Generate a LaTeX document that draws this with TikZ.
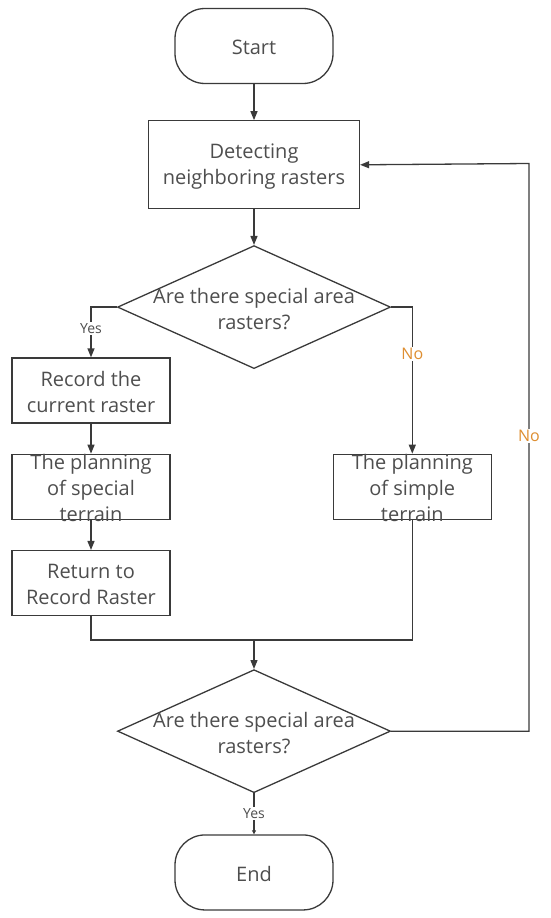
\documentclass[tikz,border=0pt]{standalone}
\usepackage{fontspec}
\setmainfont{Open Sans}
\usetikzlibrary{positioning,shapes.geometric,arrows.meta}

\definecolor{linegray}{RGB}{58,58,58}
\definecolor{textgray}{RGB}{78,78,78}
\definecolor{noorange}{RGB}{222,142,48}
% text of fixed size, may run over the frame
\newcommand{\flowtext}[1]{\makebox[0pt]{\smash{\raisebox{-4pt}{\parbox[c]{240pt}{\centering\fontsize{20pt}{26pt}\selectfont #1}}}}}

\begin{document}
\begin{tikzpicture}[x=1pt, y=-1pt, >={Triangle[length=9pt,width=7pt]},
  terminal/.style={draw=linegray, line width=1.3pt, rectangle, rounded corners=30pt, minimum width=158pt, minimum height=75pt, inner sep=0pt, text=textgray},
  process/.style={draw=linegray, line width=1.3pt, rectangle, minimum width=158pt, minimum height=65pt, inner sep=0pt, text=textgray},
  decision/.style={draw=linegray, line width=1.3pt, diamond, minimum width=273pt, minimum height=123pt, inner sep=0pt, text=textgray},
  flow/.style={->, draw=linegray, line width=1.3pt},
  link/.style={draw=linegray, line width=1.3pt},
  yeslabel/.style={fill=white, inner sep=1.5pt, text=textgray, font=\fontsize{14pt}{16pt}\selectfont},
  nolabel/.style={fill=white, inner sep=1.5pt, text=noorange, font=\fontsize{16pt}{18pt}\selectfont}]
  \useasboundingbox (0,0) rectangle (550,918);

  % Nodes
  \node [terminal] (start) at (254,46) {\flowtext{Start}};
  \node [process, minimum width=211pt, minimum height=88pt, below=36pt of start] (detect) {\flowtext{Detecting\\neighboring rasters}};
  \node [decision, below=35.5pt of detect] (check) {\flowtext{Are there special area\\rasters?}};
  \node [process] (record) at (91,390.5) {\flowtext{Record the\\current raster}};
  \node [process, below=30pt of record] (special) {\flowtext{The planning\\of special\\terrain}};
  \node [process, below=30pt of special] (back) {\flowtext{Return to\\Record Raster}};
  \node [process, right=162pt of special] (simple) {\flowtext{The planning\\of simple\\terrain}};
  \coordinate (merge) at (254,640);
  \node [decision, below=29pt of merge] (recheck) {\flowtext{Are there special area\\rasters?}};
  \node [terminal, below=41pt of recheck] (stop) {\flowtext{End}};
  \coordinate (rail) at (529,163.5);

  % Arrows
  \draw [flow] (start) -- (detect);
  \draw [flow] (detect) -- (check);
  \draw [flow] (check.west) -| node [yeslabel, pos=0.71] {Yes} (record.north);
  \draw [flow] (check.east) -| node [nolabel, pos=0.66] {No} (simple.north);
  \draw [flow] (record) -- (special);
  \draw [flow] (special) -- (back);
  \draw [link] (back.south) |- (merge) -| (simple.south);
  \draw [flow] (merge) -- (recheck);
  \draw [flow] (recheck.east) -| node [nolabel, pos=0.76] {No} (rail) -- (detect.east);
  \draw [link, -{Triangle[length=4pt,width=4pt]}] (recheck.south) -- node [yeslabel] {Yes} (stop.north);
\end{tikzpicture}
\end{document}
